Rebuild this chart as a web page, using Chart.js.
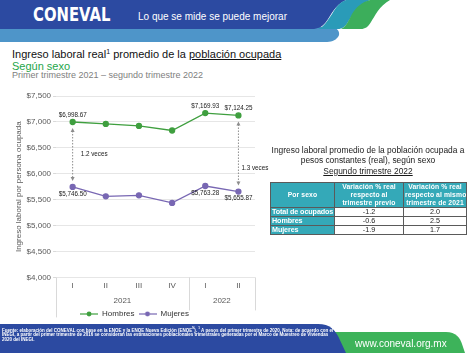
<!DOCTYPE html>
<html><head><meta charset="utf-8">
<script src="https://cdn.jsdelivr.net/npm/chart.js@4"></script>
<style>
html,body{margin:0;padding:0;}
body{width:474px;height:353px;overflow:hidden;position:relative;background:#fff;font-family:"Liberation Sans",Arial,sans-serif;}
.abs{position:absolute;}
#hdr{left:0;top:0;}
#logo{left:33px;top:3px;color:#fff;font-weight:bold;font-size:19px;font-family:"DejaVu Sans",sans-serif;transform:scaleX(0.78);transform-origin:left top;letter-spacing:0px;}
#slogan{left:138px;top:11px;color:#fff;font-size:10px;white-space:nowrap;}
#t1{left:12px;top:48px;font-size:11px;color:#111;white-space:nowrap;}
#t1 sup{font-size:7px;vertical-align:4px;line-height:0;}
#t2{left:12px;top:60px;font-size:11px;color:#1ea64a;white-space:nowrap;}
#t3{left:12px;top:70px;font-size:9px;color:#808080;white-space:nowrap;}
#chartBox{left:0;top:88px;width:272px;height:240px;}
#rtitle{left:262px;top:145px;width:212px;text-align:center;font-size:8.4px;line-height:10.3px;color:#1a1a1a;}
#tbl{left:270px;top:182px;border-collapse:collapse;font-size:7.2px;table-layout:fixed;width:197px;}
#tbl td,#tbl th{border:1px solid #5a5a5a;padding:0 1px;white-space:nowrap;overflow:hidden;}
#tbl th{background:#34a9b8;color:#fff;font-weight:bold;font-size:6.8px;height:24px;line-height:8px;letter-spacing:0.1px;}
#tbl td{height:8px;line-height:8px;text-align:center;color:#222;}
#tbl td.lbl{background:#34a9b8;color:#fff;font-weight:bold;text-align:left;letter-spacing:-0.1px;}
#ftr{left:0;top:320px;}
#fnote{left:2px;top:326px;color:#fff;font-weight:bold;font-size:4.5px;line-height:4.8px;white-space:nowrap;}
#web{left:355px;top:338px;color:#fff;font-size:10px;white-space:nowrap;}
</style></head>
<body>
<svg id="hdr" class="abs" width="474" height="46" viewBox="0 0 474 46">
  <path d="M0 27 H330 C338 27 341 33 338 37 C335 41 331 42 325 42 H0 Z" fill="#4e95c9"/>
  <path d="M0 0 H346 C334 6 332 14 326 22 C322 27 318 29 312 29 H0 Z" fill="#2c4aa1"/>
  <path d="M346 0 H370 C356 6 352 16 348 22 C345 27 342 29 338 29 H318 C324 27 328 20 332 14 C336 7 340 2 346 0 Z" fill="#2a9bb8"/>
  <path d="M370 0 H390 C379 6 375 16 371 22 C368 27 365 29 361 29 H341 C346 27 349 20 352 14 C356 7 362 2 370 0 Z" fill="#3cae5b"/>
</svg>
<div id="logo" class="abs">CONEVAL</div>
<div id="slogan" class="abs">Lo que se mide se puede mejorar</div>
<div id="t1" class="abs">Ingreso laboral real<sup>1</sup> promedio de la <u>población ocupada</u></div>
<div id="t2" class="abs">Según sexo</div>
<div id="t3" class="abs">Primer trimestre 2021 – segundo trimestre 2022</div>
<div id="chartBox" class="abs"><canvas id="c"></canvas></div>
<div id="rtitle" class="abs">Ingreso laboral promedio de la población ocupada a<br>pesos constantes (real), según sexo<br><u>Segundo trimestre 2022</u></div>
<table id="tbl" class="abs"></table>
<svg id="ftr" class="abs" width="474" height="33" viewBox="0 320 474 33">
  <path d="M330 332 H446 C456 332 460 338 462 344 L465 353 H330 Z" fill="#3db35a"/>
  <path d="M0 324 H318 C330 324 335 330 339 338 L346 353 H0 Z" fill="#2c4aa1"/>
</svg>
<div id="fnote" class="abs">Fuente: elaboración del CONEVAL con base en la ENOE y la ENOE Nueva Edición (ENOE<sup style="font-size:3px">N</sup>). <sup style="font-size:3px">1</sup> A pesos del primer trimestre de 2020. Nota: de acuerdo con el<br>INEGI, a partir del primer trimestre de 2016 se consideran las estimaciones poblacionales trimestrales generadas por el Marco de Muestreo de Viviendas<br>2020 del INEGI.</div>
<div id="web" class="abs">www.coneval.org.mx</div>
<script>
// ---- data ----
const categories = ['I','II','III','IV','I','II'];
const years = ['2021','2022'];
const yearSpans = [4, 2];
const seriesNames = ['Hombres','Mujeres'];
const hombres = [6998.67, 6962, 6923, 6834, 7169.93, 7124.25];
const mujeres = [5746.50, 5565, 5584, 5437, 5763.28, 5655.87];
const labeledIdx = [0, 4, 5];
const ratioIdx = [0, 5];
const ratioText = ['1.2 veces', '1.3 veces'];
const yMin = 4000, yMax = 7500, yStep = 500;
const yTitle = 'Ingreso laboral por persona ocupada';
const tableHead = ['Por sexo', 'Variación % real<br>respecto al<br>trimestre previo', 'Variación % real<br>respecto al mismo<br>trimestre de 2021'];
const tableRows = ['Total de ocupados', 'Hombres', 'Mujeres'];
const varPrev = ['-1.2', '-0.6', '-1.9'];
const varYear = ['2.0', '2.5', '1.7'];

// ---- table ----
const tbl = document.getElementById('tbl');
let html = '<tr><th style="width:61px">'+tableHead[0]+'</th><th style="width:66px">'+tableHead[1]+'</th><th>'+tableHead[2]+'</th></tr>';
tableRows.forEach((r,i)=>{ html += '<tr><td class="lbl">'+r+'</td><td>'+varPrev[i]+'</td><td>'+varYear[i]+'</td></tr>'; });
tbl.innerHTML = html;

const colors = ['#3f9f3f', '#7867b3'];
function legendIcon(col){
  const cv = document.createElement('canvas'); cv.width = 18; cv.height = 8;
  const g = cv.getContext('2d');
  g.strokeStyle = col; g.lineWidth = 1.2; g.beginPath(); g.moveTo(0,4); g.lineTo(18,4); g.stroke();
  g.fillStyle = col; g.beginPath(); g.arc(9,4,2.4,0,Math.PI*2); g.fill();
  return cv;
}
const fmt = v => '$' + v.toLocaleString('en-US',{minimumFractionDigits:2, maximumFractionDigits:2});

const annot = {
  id:'annot',
  afterDatasetsDraw(chart){
    const ctx = chart.ctx;
    const m0 = chart.getDatasetMeta(0), m1 = chart.getDatasetMeta(1);
    ctx.save();
    ctx.font = '6.3px "Liberation Sans", Arial';
    ctx.fillStyle = '#1a1a1a';
    ctx.textAlign = 'center';
    labeledIdx.forEach(i=>{
      const a = m0.data[i], b = m1.data[i];
      ctx.textBaseline = 'bottom'; ctx.fillText(fmt(hombres[i]), a.x, a.y - 4);
      ctx.textBaseline = 'top'; ctx.fillText(fmt(mujeres[i]), b.x, b.y + 4);
    });
    ctx.strokeStyle = '#8c8c8c'; ctx.fillStyle = '#8c8c8c'; ctx.lineWidth = 1;
    ratioIdx.forEach((i,k)=>{
      const a = m0.data[i], b = m1.data[i];
      const y1 = a.y + 6, y2 = b.y - 6;
      ctx.setLineDash([1.5,1.5]);
      ctx.beginPath(); ctx.moveTo(a.x, y1+3); ctx.lineTo(a.x, y2-3); ctx.stroke();
      ctx.setLineDash([]);
      ctx.beginPath(); ctx.moveTo(a.x, y1); ctx.lineTo(a.x-2, y1+4); ctx.lineTo(a.x+2, y1+4); ctx.closePath(); ctx.fill();
      ctx.beginPath(); ctx.moveTo(a.x, y2); ctx.lineTo(a.x-2, y2-4); ctx.lineTo(a.x+2, y2-4); ctx.closePath(); ctx.fill();
      ctx.fillStyle = '#1a1a1a';
      ctx.font = '6.3px "Liberation Sans", Arial';
      ctx.textAlign = 'left'; ctx.textBaseline = 'middle';
      const mid = (a.y + b.y)/2 + (k === 0 ? 0 : 15);
      ctx.fillText(ratioText[k], a.x + (k === 0 ? 8 : 3), mid);
      ctx.fillStyle = '#8c8c8c';
    });
    ctx.restore();
  },
  afterDraw(chart){
    const ctx = chart.ctx, xs = chart.scales.x;
    const w = (xs.right - xs.left) / categories.length;
    ctx.save();
    ctx.strokeStyle = '#d9d9d9'; ctx.lineWidth = 1;
    ctx.fillStyle = '#595959';
    ctx.font = '8px "Liberation Sans", Arial';
    ctx.textAlign = 'center'; ctx.textBaseline = 'middle';
    let start = 0;
    const bottom = chart.chartArea.bottom;
    const bounds = [];
    years.forEach((y,k)=>{
      const end = start + yearSpans[k] - 1;
      const left = xs.getPixelForValue(start) - w/2;
      const right = xs.getPixelForValue(end) + w/2;
      bounds.push(left); if (k === years.length-1) bounds.push(right);
      ctx.fillText(y, (left+right)/2, bottom + 23);
      start = end + 1;
    });
    bounds.forEach((bx,j)=>{
      const len = (j === 0) ? 40 : 33;
      ctx.beginPath(); ctx.moveTo(Math.round(bx)+0.5, bottom); ctx.lineTo(Math.round(bx)+0.5, bottom + len); ctx.stroke();
    });
    ctx.restore();
  }
};

new Chart(document.getElementById('c'), {
  type:'line',
  data:{
    labels: categories,
    datasets:[
      {label: seriesNames[0], data: hombres, borderColor: colors[0], backgroundColor: colors[0], pointBackgroundColor: colors[0], borderWidth:1.3, pointRadius:2.5, pointHoverRadius:2.5, tension:0},
      {label: seriesNames[1], data: mujeres, borderColor: colors[1], backgroundColor: colors[1], pointBackgroundColor: colors[1], borderWidth:1.3, pointRadius:2.5, pointHoverRadius:2.5, tension:0}
    ]
  },
  options:{
    responsive:true, maintainAspectRatio:false, animation:false,
    layout:{padding:{left:14, right:17, top:8, bottom:0}},
    plugins:{
      tooltip:{enabled:false},
      legend:{position:'bottom', labels:{
        usePointStyle:true, pointStyleWidth:18, padding:4, boxHeight:8,
        font:{size:8, family:'"Liberation Sans", Arial'}, color:'#333',
        generateLabels(chart){
          return chart.data.datasets.map((ds,i)=>({text: ds.label, pointStyle: legendIcon(colors[i]), fillStyle: colors[i], strokeStyle: colors[i], lineWidth:0, datasetIndex:i, hidden:false, fontColor:'#333'}));
        }
      }}
    },
    scales:{
      x:{
        offset:true,
        grid:{display:false, drawTicks:false},
        border:{display:false},
        ticks:{color:'#595959', font:{size:8, family:'"Liberation Sans", Arial'}, padding:4},
        afterFit(s){ s.height += 11; }
      },
      y:{
        min:yMin, max:yMax,
        grid:{color:'#e6e6e6', tickLength:3, tickColor:'#d9d9d9'},
        border:{display:false},
        ticks:{stepSize:yStep, color:'#595959', font:{size:8, family:'"Liberation Sans", Arial'}, padding:2,
          callback:v => '$' + v.toLocaleString('en-US')},
        title:{display:true, text:yTitle, color:'#595959', font:{size:8, family:'"Liberation Sans", Arial'}, padding:{top:0,bottom:1}}
      }
    }
  },
  plugins:[annot]
});
</script>
</body></html>
